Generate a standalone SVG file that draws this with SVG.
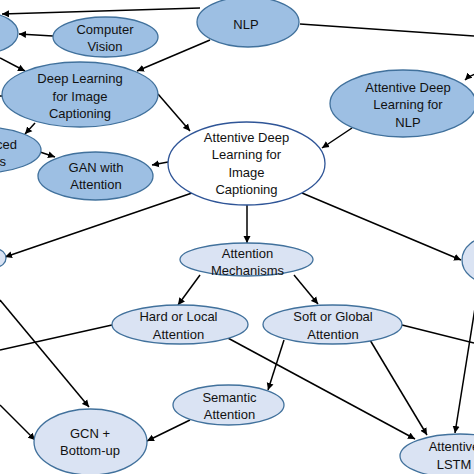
<svg xmlns="http://www.w3.org/2000/svg" width="474" height="474" viewBox="0 0 474 474">
<style>
.dark{fill:#9dbfe3;stroke:#41719c;stroke-width:1.3}
.light{fill:#dae3f3;stroke:#41719c;stroke-width:1.3}
.white{fill:#ffffff;stroke:#2f5597;stroke-width:1.3}
text{font-family:"Liberation Sans",Arial,sans-serif;font-size:13px;fill:#111;text-anchor:middle}
.edge{stroke:#000;stroke-width:1.5;fill:none}
.arr{marker-end:url(#ah)}
</style>
<defs>
<marker id="ah" markerWidth="8" markerHeight="8" refX="7" refY="4" orient="auto" markerUnits="userSpaceOnUse">
<path d="M0,0.5 L7,4 L0,7.5 Z" fill="#000"/>
</marker>
</defs>
<rect width="474" height="474" fill="#fff"/>
<g id="connectors">
<line class="edge arr" x1="200" y1="8" x2="2" y2="14"/>
<line class="edge arr" x1="53" y1="36" x2="19" y2="34"/>
<line class="edge arr" x1="0" y1="58" x2="25" y2="71"/>
<line class="edge arr" x1="210" y1="40" x2="137" y2="71"/>
<line class="edge" x1="0" y1="96" x2="3" y2="96"/>
<line class="edge arr" x1="158" y1="94" x2="190" y2="131"/>
<line class="edge arr" x1="35" y1="123" x2="25" y2="134"/>
<line class="edge arr" x1="40" y1="152" x2="55" y2="157"/>
<line class="edge arr" x1="168" y1="162" x2="152" y2="165"/>
<line class="edge arr" x1="352" y1="128" x2="322" y2="148"/>
<line class="edge" x1="300" y1="24" x2="474" y2="36"/>
<path class="edge arr" d="M476,74 Q470,75 465,80"/>
<line class="edge arr" x1="192" y1="193" x2="5" y2="257"/>
<line class="edge arr" x1="247" y1="205" x2="247" y2="243"/>
<line class="edge arr" x1="302" y1="193" x2="461" y2="260"/>
<line class="edge arr" x1="200" y1="275" x2="178" y2="305"/>
<line class="edge arr" x1="294" y1="275" x2="318" y2="304"/>
<line class="edge" x1="112" y1="325" x2="0" y2="350"/>
<line class="edge arr" x1="226" y1="337" x2="415" y2="439"/>
<line class="edge arr" x1="284" y1="340" x2="268" y2="390"/>
<line class="edge arr" x1="370" y1="340" x2="427" y2="435"/>
<line class="edge" x1="402" y1="325" x2="474" y2="343"/>
<line class="edge arr" x1="475" y1="308" x2="455" y2="433"/>
<line class="edge arr" x1="0" y1="300" x2="89" y2="407"/>
<line class="edge arr" x1="0" y1="405" x2="35" y2="440"/>
<line class="edge arr" x1="190" y1="420" x2="147" y2="441"/>
</g>
<g id="node-topleft"><ellipse class="dark" cx="-15" cy="33" rx="33" ry="20"/></g>
<g id="node-cv"><ellipse class="dark" cx="105.5" cy="37" rx="52.5" ry="20"/><text x="105" y="33.5">Computer</text><text x="105" y="50.5">Vision</text></g>
<g id="node-nlp"><ellipse class="dark" cx="248" cy="22" rx="51" ry="25"/><text x="246" y="28.5">NLP</text></g>
<g id="node-dl"><ellipse class="dark" cx="80" cy="94.5" rx="78" ry="32.5"/><text x="80" y="82.5">Deep Learning</text><text x="80" y="100.5">for Image</text><text x="80" y="117.5">Captioning</text></g>
<g id="node-ced"><ellipse class="dark" cx="-20" cy="150" rx="61" ry="23"/><text x="17" y="148.5" style="text-anchor:end">ced</text><text x="6" y="165.5" style="text-anchor:end">s</text></g>
<g id="node-gan"><ellipse class="dark" cx="95.5" cy="176" rx="57.5" ry="24"/><text x="96" y="171.5">GAN with</text><text x="96" y="188.5">Attention</text></g>
<g id="node-adlic"><ellipse class="white" cx="246.5" cy="163.5" rx="78.5" ry="41.5"/><text x="246.5" y="141.5">Attentive Deep</text><text x="246.5" y="158.5">Learning for</text><text x="246.5" y="176.5">Image</text><text x="246.5" y="193.5">Captioning</text></g>
<g id="node-adlnlp"><ellipse class="dark" cx="403" cy="103.5" rx="73" ry="33.5"/><text x="408" y="91.5">Attentive Deep</text><text x="408" y="108.5">Learning for</text><text x="408" y="126.5">NLP</text></g>
<g id="node-am"><ellipse class="light" cx="246.5" cy="259.5" rx="66.5" ry="16.5"/><text x="247.5" y="257.5">Attention</text><text x="247.5" y="275">Mechanisms</text></g>
<g id="node-hard"><ellipse class="light" cx="180" cy="324.5" rx="68" ry="19.5"/><text x="178.5" y="320.5">Hard or Local</text><text x="178.5" y="338.5">Attention</text></g>
<g id="node-soft"><ellipse class="light" cx="332.5" cy="324.5" rx="69.5" ry="19.5"/><text x="333" y="320.5">Soft or Global</text><text x="333" y="338.5">Attention</text></g>
<g id="node-sem"><ellipse class="light" cx="228.5" cy="405" rx="55.5" ry="20"/><text x="229.5" y="401.5">Semantic</text><text x="229.5" y="418.5">Attention</text></g>
<g id="node-gcn"><ellipse class="light" cx="90.5" cy="442" rx="56.5" ry="33"/><text x="90" y="437.5">GCN +</text><text x="90" y="454.5">Bottom-up</text></g>
<g id="node-lstm"><ellipse class="light" cx="460" cy="456" rx="60" ry="22"/><text x="454" y="450.5">Attentive</text><text x="454" y="468.5">LSTM</text></g>
<g id="node-right"><ellipse class="light" cx="490" cy="260" rx="28" ry="23"/></g>
<g id="node-leftsmall"><ellipse class="light" cx="-4" cy="258" rx="10" ry="9"/></g>
</svg>
